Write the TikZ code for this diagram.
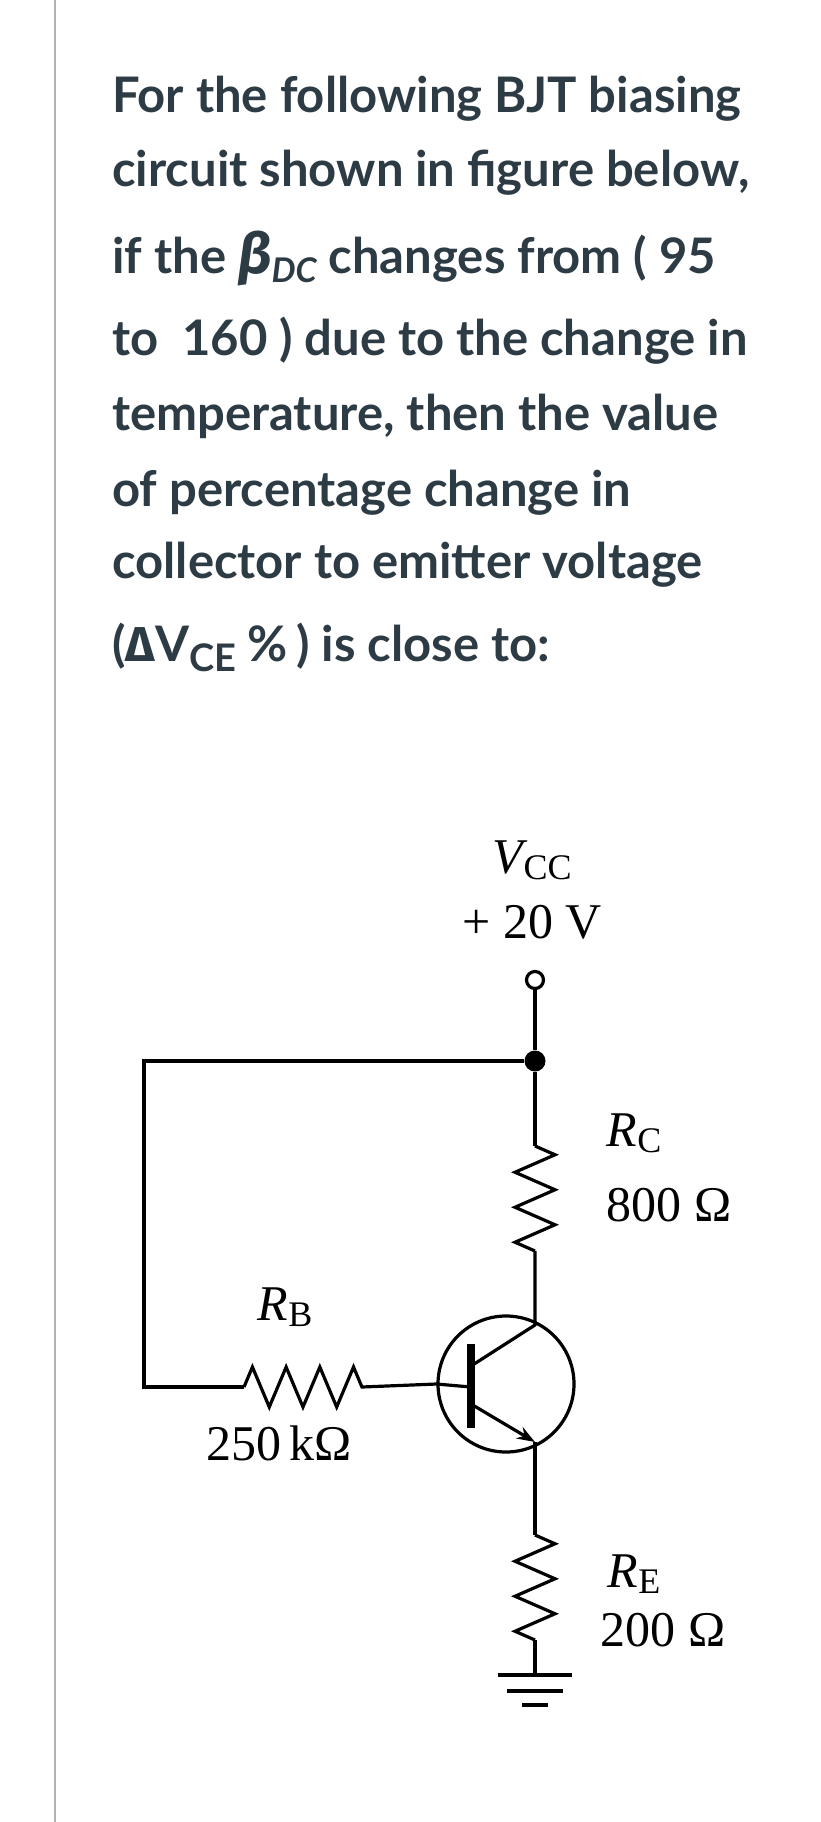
\documentclass[tikz,border=0pt]{standalone}
\usepackage{fontspec}
\setmainfont{Lato}
\newfontfamily\grk{Fira Sans}
\newfontfamily\ser{Liberation Serif}
\usetikzlibrary{arrows.meta,decorations.pathmorphing}
\definecolor{ink}{HTML}{2D3B45}
\begin{document}
\begin{tikzpicture}[x=1pt,y=-1pt,
  q/.style={anchor=base west,inner sep=0,text=ink,font=\fontsize{49}{49}\selectfont\bfseries},
  lab/.style={anchor=base,inner sep=0,font=\ser\fontsize{50}{50}\selectfont},
  wire/.style={line width=3.2pt},
  res/.style={wire,decorate,decoration={zigzag,segment length=#1,amplitude=20pt}}]
\useasboundingbox[fill=white] (0,0) rectangle (820,1822);
\draw[line width=1.5pt,gray!60] (55,0) -- (55,1822);
\node[q] (l1) at (112,113) {For the following BJT biasing};
\node[q] (l2) at (112,186) {circuit shown in figure below,};
\node[q] (l3) at (112,273) {if the {\grk\itshape\fontsize{56}{56}\selectfont β}\raisebox{-9pt}{\fontsize{34}{34}\selectfont\itshape DC} changes from ( 95};
\node[q] (l4) at (112,355) {to\ \ 160 ) due to the change in};
\node[q] (l5) at (112,430) {temperature, then the value};
\node[q] (l6) at (112,506) {of percentage change in};
\node[q] (l7) at (112,578) {collector to emitter voltage};
\node[q] (l8) at (112,661) {({\grk Δ}V\raisebox{-10pt}{\fontsize{38}{38}\selectfont CE} \%\,) is close to:};
% circuit
\node[lab] (vcc) at (532,873) {\textit{V}\kern-4pt\raisebox{-6pt}{\fontsize{36}{36}\selectfont CC}};
\node[lab] (v20) at (532,938) {+ 20 V};
\node[draw,wire,circle,minimum size=17pt,inner sep=0] (term) at (535,980) {};
\node[circle,fill,minimum size=21pt,inner sep=0] (j) at (535,1061) {};
\coordinate (tl) at (144,1061);
\coordinate (bl) at (144,1387);
\coordinate (rb1) at (244,1387);
\coordinate (rb2) at (362,1387);
\node[draw,wire,circle,minimum size=136pt,inner sep=0] (q) at (506,1384) {};
\coordinate (bt) at (471,1344); \coordinate (bb) at (471,1428);
\coordinate (c) at (535,1325); \coordinate (e) at (535,1442);
\coordinate (rc1) at (535,1146); \coordinate (rc2) at (535,1251);
\coordinate (re1) at (535,1535); \coordinate (re2) at (535,1640);
\coordinate (g) at (535,1675);
\draw[wire] (term) -- (j) -- (tl) -- (bl) -- (rb1);
\draw[res=33.7pt] (rb1) -- (rb2);
\draw[wire] (rb2) -- (q.west) -- (471,1387);
\draw[line width=8pt] (bt) -- (bb);
\draw[wire] (j) -- (rc1);
\draw[res=35pt] (rc1) -- (rc2);
\draw[wire] (rc2) -- (c) -- (471,1366);
\draw[wire,-{Stealth[length=18pt,width=13pt]}] (471,1404) -- (e);
\draw[wire] (e) -- (re1);
\draw[res=35pt] (re1) -- (re2);
\draw[wire] (re2) -- (g);
\draw[line width=4.5pt] (498,1675) -- (572,1675) (507,1691) -- (563,1691) (522,1705) -- (548,1705);
\node[lab] (rc) at (634,1146) {\textit{R}\raisebox{-6pt}{\fontsize{36}{36}\selectfont C}};
\node[lab] (rcv) at (669,1221) {800 Ω};
\node[lab] (rb) at (285,1320) {\textit{R}\raisebox{-6pt}{\fontsize{36}{36}\selectfont B}};
\node[lab] (rbv) at (279,1460) {250\,kΩ};
\node[lab] (re) at (634,1587) {\textit{R}\raisebox{-6pt}{\fontsize{36}{36}\selectfont E}};
\node[lab] (rev) at (663,1646) {200 Ω};
\end{tikzpicture}
\end{document}
